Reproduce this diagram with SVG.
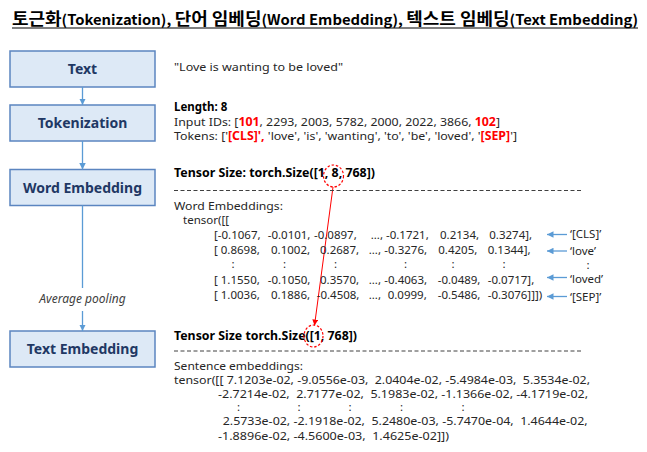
<svg xmlns="http://www.w3.org/2000/svg" width="647" height="452" viewBox="0 0 647 452">
<style>
.box{fill:#DDE9F6;stroke:#5B85C0;stroke-width:1.5}
.lbl{font-family:"Noto Sans","Open Sans",sans-serif;font-weight:bold;font-size:14px;fill:#1F3864;text-anchor:middle}
.t{font-family:"Noto Sans","Open Sans",sans-serif;font-size:11.5px;fill:#262626}
.n{font-family:"Noto Sans","Open Sans",sans-serif;font-size:11.5px;fill:#262626}
.e{font-family:"Noto Sans","Open Sans",sans-serif;font-size:11.5px;fill:#262626;white-space:pre}
.b{font-weight:bold;fill:#000}
.r{font-weight:bold;fill:#FF0000}
.conn{stroke:#5B9BD5;stroke-width:1.3;fill:none}
.dash{stroke:#404040;stroke-width:1;stroke-dasharray:4 2.5}
.ko{font-family:"Noto Sans CJK KR","Noto Sans",sans-serif;font-weight:bold;fill:#000}
</style>
<defs>
<marker id="ah" viewBox="0 0 10 10" refX="10" refY="5" markerWidth="5" markerHeight="5" orient="auto-start-reverse">
<path d="M0,0 L10,5 L0,10 z" fill="#5B9BD5"/>
</marker>
<marker id="rh" viewBox="0 0 10 10" refX="10" refY="5" markerWidth="6" markerHeight="6" orient="auto">
<path d="M0,0 L10,5 L0,10 z" fill="#FF0000"/>
</marker>
</defs>
<rect width="647" height="452" fill="#fff"/>

<g id="title">
<text class="ko" x="12" y="25" textLength="626" lengthAdjust="spacingAndGlyphs"><tspan font-size="17">토근화</tspan><tspan font-size="14">(Tokenization), </tspan><tspan font-size="17">단어 임베딩</tspan><tspan font-size="14">(Word Embedding), </tspan><tspan font-size="17">텍스트 임베딩</tspan><tspan font-size="14">(Text Embedding)</tspan></text>
<line x1="12" y1="28" x2="638" y2="28" stroke="#000" stroke-width="1.2"/>
</g>

<g id="node-text"><rect class="box" x="10" y="51" width="145" height="36"/><text class="lbl" x="82.5" y="74">Text</text></g>
<g id="node-tokenization"><rect class="box" x="10" y="105" width="145" height="36"/><text class="lbl" x="82.5" y="128">Tokenization</text></g>
<g id="node-word-embedding"><rect class="box" x="10" y="169.5" width="145" height="36"/><text class="lbl" x="82.5" y="192.5">Word Embedding</text></g>
<g id="node-text-embedding"><rect class="box" x="10" y="331" width="145" height="36"/><text class="lbl" x="82.5" y="354">Text Embedding</text></g>

<g id="connectors">
<line class="conn" x1="82.5" y1="87" x2="82.5" y2="105" marker-end="url(#ah)"/>
<line class="conn" x1="82.5" y1="141" x2="82.5" y2="169.5" marker-end="url(#ah)"/>
<line class="conn" x1="82.5" y1="205.5" x2="82.5" y2="288"/>
<line class="conn" x1="82.5" y1="311" x2="82.5" y2="331" marker-end="url(#ah)"/>
<text x="82.5" y="303" text-anchor="middle" font-family="'Noto Sans','Open Sans',sans-serif" font-size="12" font-style="italic" fill="#404040">Average pooling</text>
<line class="conn" x1="567" y1="234.5" x2="547" y2="234.5" marker-end="url(#ah)"/>
<line class="conn" x1="567" y1="251" x2="547" y2="251" marker-end="url(#ah)"/>
<line class="conn" x1="567" y1="277.5" x2="547" y2="277.5" marker-end="url(#ah)"/>
<line class="conn" x1="567" y1="296.5" x2="547" y2="296.5" marker-end="url(#ah)"/>
<line x1="333" y1="187" x2="314.5" y2="325.5" stroke="#FF0000" stroke-width="1" marker-end="url(#rh)"/>
</g>

<g id="text-output">
<text class="t" x="174" y="71" textLength="169" lengthAdjust="spacingAndGlyphs">"Love is wanting to be loved"</text>
</g>

<g id="tokenization-output">
<text class="t b" x="174" y="111">Length: 8</text>
<text class="t" x="174" y="125.5" textLength="326" lengthAdjust="spacingAndGlyphs">Input IDs: [<tspan class="r">101</tspan>, 2293, 2003, 5782, 2000, 2022, 3866, <tspan class="r">102</tspan>]</text>
<text class="t" x="174" y="140" textLength="343" lengthAdjust="spacingAndGlyphs">Tokens: ['<tspan class="r">[CLS]',</tspan> 'love', 'is', 'wanting', 'to', 'be', 'loved', '<tspan class="r">[SEP]</tspan>']</text>
</g>

<g id="word-embedding-output">
<text class="t b" x="174" y="177" textLength="201" lengthAdjust="spacingAndGlyphs">Tensor Size: torch.Size([1, 8, 768])</text>
<ellipse cx="333.5" cy="176" rx="10" ry="11" fill="none" stroke="#FF0000" stroke-width="1.2" stroke-dasharray="2.5 1.8"/>
<line class="dash" x1="174" y1="190.5" x2="581" y2="190.5"/>
<text class="t" x="174" y="209.5" textLength="109" lengthAdjust="spacingAndGlyphs">Word Embeddings:</text>
<text class="t" x="183" y="224">tensor([[</text>
<text class="n" y="238.5"><tspan x="214">[-0.1067,</tspan><tspan x="267.7">-0.0101,</tspan><tspan x="314">-0.0897,</tspan><tspan x="370.7">...,</tspan><tspan x="386">-0.1721,</tspan><tspan x="440">0.2134,</tspan><tspan x="489.3">0.3274],</tspan></text>
<text class="n" y="254"><tspan x="214">[ 0.8698,</tspan><tspan x="271">0.1002,</tspan><tspan x="320">0.2687,</tspan><tspan x="368.7">...,</tspan><tspan x="384.3">-0.3276,</tspan><tspan x="438.3">0.4205,</tspan><tspan x="487.7">0.1344],</tspan></text>
<text class="n" y="268"><tspan x="231.5">:</tspan><tspan x="283">:</tspan><tspan x="334">:</tspan><tspan x="404">:</tspan><tspan x="451.5">:</tspan><tspan x="502.5">:</tspan></text>
<text class="n" y="283.5"><tspan x="214">[ 1.1550,</tspan><tspan x="267.7">-0.1050,</tspan><tspan x="320">0.3570,</tspan><tspan x="368.7">...,</tspan><tspan x="384.3">-0.4063,</tspan><tspan x="437.7">-0.0489,</tspan><tspan x="487.7">-0.0717],</tspan></text>
<text class="n" y="298.5"><tspan x="214">[ 1.0036,</tspan><tspan x="271">0.1886,</tspan><tspan x="316.7">-0.4508,</tspan><tspan x="368.7">...,</tspan><tspan x="387.7">0.0999,</tspan><tspan x="437.7">-0.5486,</tspan><tspan x="487.7">-0.3076]]])</tspan></text>
<text class="t" x="570" y="238">‘[CLS]’</text>
<text class="t" x="570" y="254.5">‘love’</text>
<text class="t" x="586.5" y="268.5" font-size="8">:</text>
<text class="t" x="570" y="283">‘loved’</text>
<text class="t" x="570" y="300.5">‘[SEP]’</text>
</g>

<g id="text-embedding-output">
<text class="t b" x="174" y="339.5" textLength="183" lengthAdjust="spacingAndGlyphs">Tensor Size torch.Size([1, 768])</text>
<ellipse cx="313.5" cy="336" rx="9.5" ry="11" fill="none" stroke="#FF0000" stroke-width="1.2" stroke-dasharray="2.5 1.8"/>
<line class="dash" x1="174" y1="351" x2="581" y2="351"/>
<text class="t" x="174" y="370" textLength="129" lengthAdjust="spacingAndGlyphs">Sentence embeddings:</text>
<text class="e" x="174" y="383.5" textLength="416" lengthAdjust="spacingAndGlyphs">tensor([[ 7.1203e-02, -9.0556e-03,  2.0404e-02, -5.4984e-03,  5.3534e-02,</text>
<text class="e" x="218" y="397.5" textLength="370" lengthAdjust="spacingAndGlyphs">-2.7214e-02,  2.7177e-02,  5.1983e-02, -1.1366e-02, -4.1719e-02,</text>
<text class="e" y="411" font-size="10"><tspan x="237">:</tspan><tspan x="297.5">:</tspan><tspan x="348.5">:</tspan><tspan x="400">:</tspan><tspan x="461.5">:</tspan></text>
<text class="e" x="222.7" y="425" textLength="365" lengthAdjust="spacingAndGlyphs">2.5733e-02, -2.1918e-02,  5.2480e-03, -5.7470e-04,  1.4644e-02,</text>
<text class="e" x="218" y="439.5" textLength="231" lengthAdjust="spacingAndGlyphs">-1.8896e-02, -4.5600e-03,  1.4625e-02]])</text>
</g>
</svg>
